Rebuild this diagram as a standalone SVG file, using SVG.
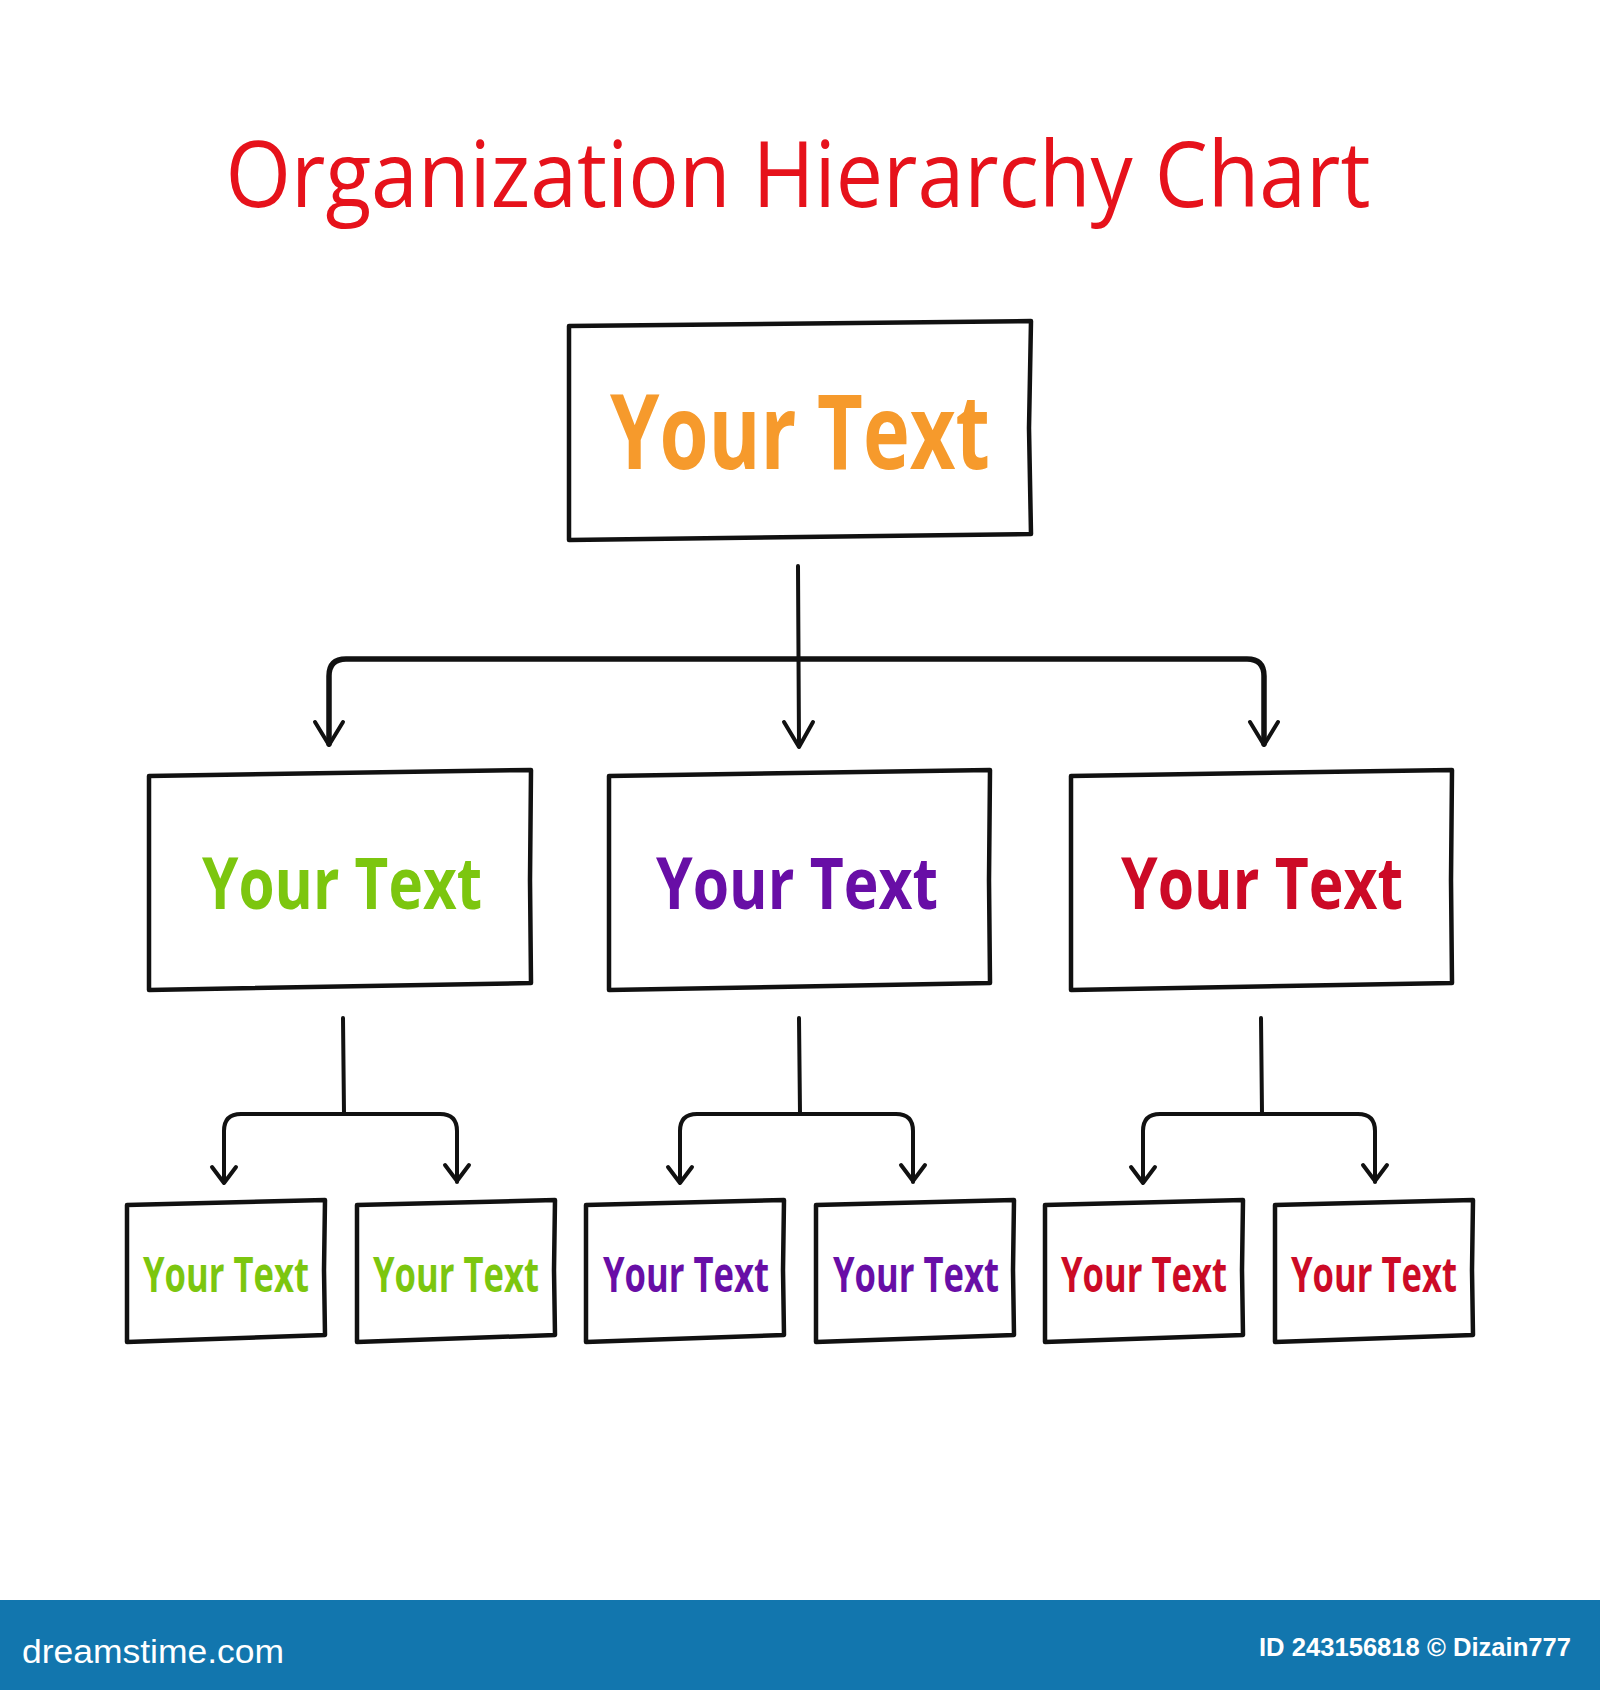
<svg xmlns="http://www.w3.org/2000/svg" width="1600" height="1690" viewBox="0 0 1600 1690">
<style>
.box{fill:#fff;stroke:#111;stroke-width:4.5;stroke-linejoin:round;stroke-linecap:round}
.con{fill:none;stroke:#111;stroke-width:4;stroke-linecap:round;stroke-linejoin:round}
.bus{fill:none;stroke:#111;stroke-width:5.5;stroke-linecap:round;stroke-linejoin:round}
.lbl{font-family:"Open Sans","DejaVu Sans",sans-serif;font-weight:700;text-anchor:middle}
.big{font-size:104px}
.mid{font-size:72px}
.sm{font-size:48px}
.orange{fill:#f69a2c}.green{fill:#7cc60f}.purple{fill:#680ea6}.red{fill:#cc0a26}
</style>
<rect width="1600" height="1690" fill="#fff"/>
<text x="798" y="207" font-family="Open Sans, DejaVu Sans, sans-serif" font-size="92" fill="#e6121b" text-anchor="middle" textLength="1145" lengthAdjust="spacingAndGlyphs">Organization Hierarchy Chart</text>

<g id="connectors">
<path class="con" d="M798 566 L799 746"/>
<path class="bus" d="M329 744 L329 676 Q329 659 346 659 L1247 659 Q1264 659 1264 676 L1264 744"/>
<polyline class="con" points="315,722 329,745 343,722"/>
<polyline class="con" points="784,722 799,747 813,722"/>
<polyline class="con" points="1250,722 1264,745 1278,722"/>

<path class="con" d="M343 1018 L344 1114"/>
<path class="con" d="M224 1182 L224 1131 Q224 1114 241 1114 L440 1114 Q457 1114 457 1131 L457 1182"/>
<polyline class="con" points="212,1167 224,1183 236,1167"/>
<polyline class="con" points="445,1165 457,1181 469,1165"/>

<path class="con" d="M799 1018 L800 1114"/>
<path class="con" d="M680 1182 L680 1131 Q680 1114 697 1114 L896 1114 Q913 1114 913 1131 L913 1182"/>
<polyline class="con" points="668,1167 680,1183 692,1167"/>
<polyline class="con" points="901,1165 913,1181 925,1165"/>

<path class="con" d="M1261 1018 L1262 1114"/>
<path class="con" d="M1143 1182 L1143 1131 Q1143 1114 1160 1114 L1358 1114 Q1375 1114 1375 1131 L1375 1182"/>
<polyline class="con" points="1131,1167 1143,1183 1155,1167"/>
<polyline class="con" points="1363,1165 1375,1181 1387,1165"/>
</g>

<g id="top">
<path class="box" d="M569 326 L1031 321 L1029 428 L1031 534 L569 540 Z"/>
<text class="lbl big orange" x="800" y="469" textLength="380" lengthAdjust="spacingAndGlyphs">Your Text</text>
</g>

<g id="mid-left">
<path class="box" d="M149 776 L531 770 L530 880 L531 983 L149 990 Z"/>
<text class="lbl mid green" x="342" y="909" textLength="280" lengthAdjust="spacingAndGlyphs">Your Text</text>
</g>
<g id="mid-center">
<path class="box" d="M609 776 L990 770 L989 880 L990 983 L609 990 Z"/>
<text class="lbl mid purple" x="797" y="909" textLength="282" lengthAdjust="spacingAndGlyphs">Your Text</text>
</g>
<g id="mid-right">
<path class="box" d="M1071 776 L1452 770 L1451 880 L1452 983 L1071 990 Z"/>
<text class="lbl mid red" x="1262" y="909" textLength="282" lengthAdjust="spacingAndGlyphs">Your Text</text>
</g>

<g id="leaf-1">
<path class="box" d="M127 1205 L325 1200 L324 1270 L325 1335 L127 1342 Z"/>
<text class="lbl sm green" x="226" y="1292" textLength="166" lengthAdjust="spacingAndGlyphs">Your Text</text>
</g>
<g id="leaf-2">
<path class="box" d="M357 1205 L555 1200 L554 1270 L555 1335 L357 1342 Z"/>
<text class="lbl sm green" x="456" y="1292" textLength="166" lengthAdjust="spacingAndGlyphs">Your Text</text>
</g>
<g id="leaf-3">
<path class="box" d="M586 1205 L784 1200 L783 1270 L784 1335 L586 1342 Z"/>
<text class="lbl sm purple" x="686" y="1292" textLength="166" lengthAdjust="spacingAndGlyphs">Your Text</text>
</g>
<g id="leaf-4">
<path class="box" d="M816 1205 L1014 1200 L1013 1270 L1014 1335 L816 1342 Z"/>
<text class="lbl sm purple" x="916" y="1292" textLength="166" lengthAdjust="spacingAndGlyphs">Your Text</text>
</g>
<g id="leaf-5">
<path class="box" d="M1045 1205 L1243 1200 L1242 1270 L1243 1335 L1045 1342 Z"/>
<text class="lbl sm red" x="1144" y="1292" textLength="166" lengthAdjust="spacingAndGlyphs">Your Text</text>
</g>
<g id="leaf-6">
<path class="box" d="M1275 1205 L1473 1200 L1472 1270 L1473 1335 L1275 1342 Z"/>
<text class="lbl sm red" x="1374" y="1292" textLength="166" lengthAdjust="spacingAndGlyphs">Your Text</text>
</g>

<g id="footer">
<rect x="0" y="1600" width="1600" height="90" fill="#1276ae"/>
<text x="22" y="1663" font-family="Liberation Sans, sans-serif" font-size="34" fill="#fff" textLength="262" lengthAdjust="spacingAndGlyphs">dreamstime.com</text>
<text x="1571" y="1656" font-family="Liberation Sans, sans-serif" font-size="26" font-weight="700" fill="#fff" text-anchor="end" textLength="312" lengthAdjust="spacingAndGlyphs">ID 243156818 © Dizain777</text>
</g>
</svg>
